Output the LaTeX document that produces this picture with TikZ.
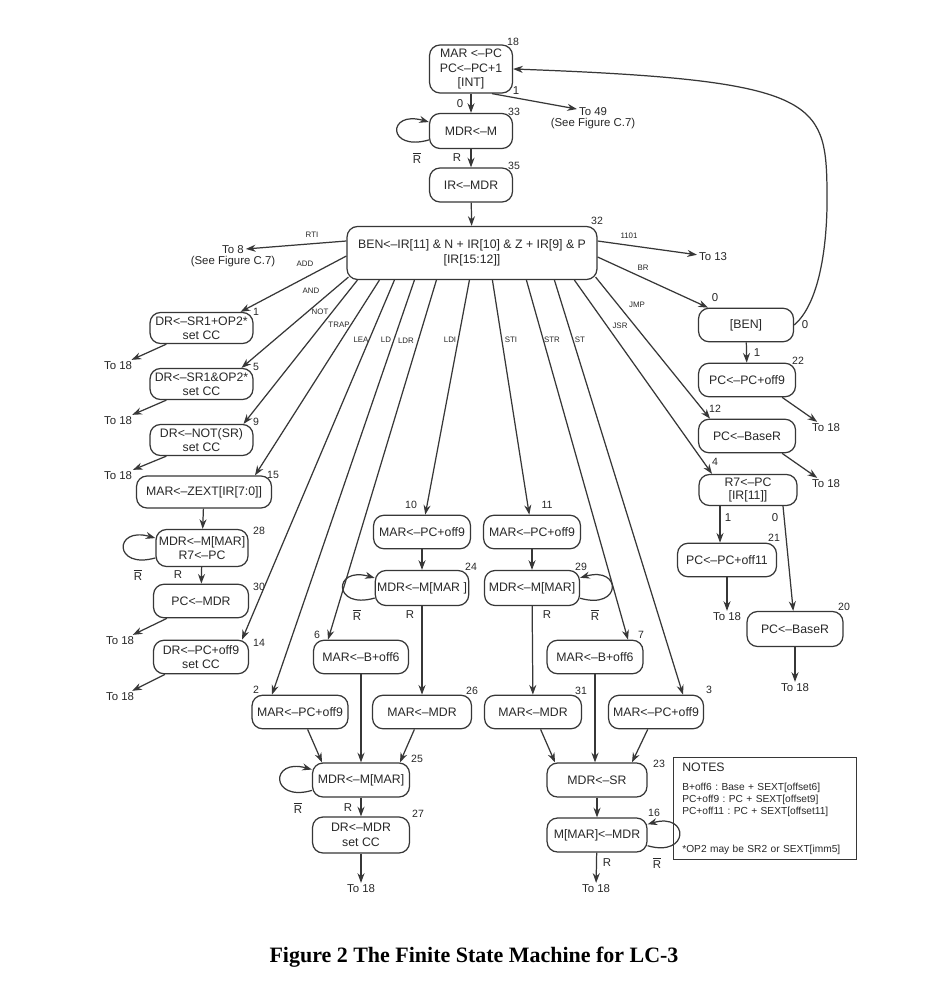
\documentclass[tikz,border=0pt]{standalone}
\usepackage{fontspec}
\setmainfont{Liberation Sans}
\newfontfamily\capfont{Liberation Serif}
\usepackage{tikz}
\usetikzlibrary{arrows.meta,positioning,calc}
\definecolor{linegray}{RGB}{55,55,55}
\definecolor{textgray}{RGB}{40,40,40}
\newcommand{\notR}{$\overline{\mbox{R}}$}
\frenchspacing

\begin{document}
\begin{tikzpicture}[x=0.02cm,y=-0.02cm,
    >={Stealth[length=5.5pt,width=4pt]},
    state/.style={draw=linegray, line width=0.7pt, rounded corners=6pt, align=center,
      inner sep=1pt, minimum width=1.94cm, minimum height=0.67cm,
      font=\fontsize{7}{8.2}\selectfont, text=textgray},
    num/.style={font=\fontsize{6}{7}\selectfont, text=textgray, inner sep=0pt},
    opc/.style={font=\fontsize{4.5}{5}\selectfont, text=textgray, inner sep=0pt},
    cond/.style={font=\fontsize{6.5}{7}\selectfont, text=textgray, inner sep=0pt},
    goto/.style={font=\fontsize{6.5}{7.5}\selectfont, text=textgray, inner sep=1pt},
    link/.style={->, draw=linegray, line width=0.7pt}]
\fill[white] (0,0) rectangle (947,996);
\useasboundingbox (0,0) rectangle (947,996);

% Fetch and decode
\node[state, minimum width=1.66cm, minimum height=0.96cm] (n18) at (471,69) {MAR <–PC\\PC<–PC+1\\{[INT]}};
\node[state, minimum width=1.66cm, minimum height=0.7cm] (n33) at (471,131) {MDR<–M};
\node[state, minimum width=1.66cm, minimum height=0.68cm] (n35) at (471,185) {IR<–MDR};
\node[state, minimum width=5cm, minimum height=1.06cm] (ben) at (472,253) {BEN<–IR[11] \& N + IR[10] \& Z + IR[9] \& P\\{[IR[15:12]]}};
\node[goto] (to49) at (593,112) {To 49};
\node[goto, below=-1pt of to49] (fig49) {(See Figure C.7)};
\node[goto] (to8) at (233,250) {To 8};
\node[goto, below=-1pt of to8] (fig8) {(See Figure C.7)};
\node[goto] (to13) at (713,257) {To 13};

\draw[link] (n18) -- (n33);
\draw[link] ($(n18.south)+(21,0)$) -- (to49);
\draw[link] (n33.192) .. controls +(-42,12) and +(-42,-12) .. (n33.168);
\draw[link] (n33) -- (n35);
\draw[link] (n35) -- (ben);
\node[num] at (513,42) {18};
\node[cond] at (516,91) {1};
\node[cond] at (460,104) {0};
\node[num] at (514,112) {33};
\node[cond] at (417,158) {\notR};
\node[cond] at (457,158) {R};
\node[num] at (514,166) {35};
\node[num] at (597,221) {32};

% Left column: operate, TRAP, LEA
\node[state, minimum width=2.06cm, minimum height=0.62cm] (n1) at (201.5,328) {DR<–SR1+OP2*\\set CC};
\node[state, minimum width=2.06cm, minimum height=0.62cm] (n5) at (201.5,384) {DR<–SR1\&OP2*\\set CC};
\node[state, minimum width=2.06cm, minimum height=0.62cm] (n9) at (201.5,440) {DR<–NOT(SR)\\set CC};
\node[state, minimum width=2.7cm, minimum height=0.64cm] (n15) at (204,492) {MAR<–ZEXT[IR[7:0]]};
\node[state, minimum width=1.84cm, minimum height=0.74cm] (n28) at (202,548) {MDR<–M[MAR]\\R7<–PC};
\node[state, minimum width=1.9cm] (n30) at (201,601) {PC<–MDR};
\node[state, minimum width=1.9cm] (n14) at (201,657) {DR<–PC+off9\\set CC};
\node[goto] (t1) at (118,366) {To 18};
\node[goto] (t5) at (118,421) {To 18};
\node[goto] (t9) at (118,476) {To 18};
\node[goto] (t30) at (120,641) {To 18};
\node[goto] (t14) at (120,697) {To 18};

\draw[link] ($(n1.south west)+(17,0)$) -- (t1);
\draw[link] ($(n5.south west)+(17,0)$) -- (t5);
\draw[link] ($(n9.south west)+(17,0)$) -- (t9);
\draw[link] (n15) -- (n28);
\draw[link] (n28.192) .. controls +(-42,12) and +(-42,-12) .. (n28.168);
\draw[link] (n28) -- (n30);
\draw[link] ($(n30.south west)+(14,0)$) -- (t30);
\draw[link] ($(n14.south west)+(12,0)$) -- (t14);
\node[num] at (256,312) {1};
\node[num] at (256,367) {5};
\node[num] at (256,422) {9};
\node[num] at (273,475) {15};
\node[num] at (259,531) {28};
\node[cond] at (138,575) {\notR};
\node[cond] at (178,575) {R};
\node[num] at (259,587) {30};
\node[num] at (259,643) {14};

% Loads
\node[state] (n10) at (422,532) {MAR<–PC+off9};
\node[state, minimum width=1.86cm, minimum height=0.7cm] (n24) at (422,588) {MDR<–M[MAR ]};
\node[state, minimum width=1.9cm] (n6) at (361,657) {MAR<–B+off6};
\node[state, minimum width=1.92cm] (n2) at (300,712) {MAR<–PC+off9};
\node[state, minimum width=1.98cm] (n26) at (422,712) {MAR<–MDR};
\node[state, minimum height=0.68cm] (n25) at (361,780) {MDR<–M[MAR]};
\node[state, minimum height=0.72cm] (n27) at (361,835) {DR<–MDR\\set CC};
\node[goto] (t27) at (361,889) {To 18};

\draw[link] (n10) -- (n24);
\draw[link] (n24.192) .. controls +(-42,12) and +(-42,-12) .. (n24.168);
\draw[link] (n24) -- (n26);
\draw[link] (n2) -- ($(n25.north)+(-39,0)$);
\draw[link] (n6) -- (n25);
\draw[link] (n26) -- ($(n25.north)+(39,0)$);
\draw[link] (n25.192) .. controls +(-42,12) and +(-42,-12) .. (n25.168);
\draw[link] (n25) -- (n27);
\draw[link] (n27) -- (t27);
\node[num] at (411,505) {10};
\node[num] at (471,567) {24};
\node[cond] at (357,615) {\notR};
\node[cond] at (410,615) {R};
\node[num] at (317,635) {6};
\node[num] at (256,690) {2};
\node[num] at (472,691) {26};
\node[num] at (417,759) {25};
\node[cond] at (298,808) {\notR};
\node[cond] at (348,808) {R};
\node[num] at (418,814) {27};

% Stores
\node[state] (n11) at (532,532) {MAR<–PC+off9};
\node[state, minimum width=1.9cm, minimum height=0.7cm] (n29) at (532,588) {MDR<–M[MAR]};
\node[state, minimum width=1.92cm] (n7) at (595,657) {MAR<–B+off6};
\node[state] (n31) at (533,712) {MAR<–MDR};
\node[state, minimum width=1.9cm] (n3) at (656,712) {MAR<–PC+off9};
\node[state, minimum width=2cm, minimum height=0.68cm] (n23) at (597,780) {MDR<–SR};
\node[state, minimum width=2cm, minimum height=0.68cm] (n16) at (597,835) {M[MAR]<–MDR};
\node[goto] (t16) at (596,889) {To 18};

\draw[link] (n11) -- (n29);
\draw[link] (n29.-12) .. controls +(42,12) and +(42,-12) .. (n29.12);
\draw[link] (n29) -- (n31);
\draw[link] (n31) -- ($(n23.north)+(-42,0)$);
\draw[link] (n7) -- (n7 |- n23.north);
\draw[link] (n3) -- ($(n23.north)+(35,0)$);
\draw[link] (n23) -- (n16);
\draw[link] (n16.-12) .. controls +(42,12) and +(42,-12) .. (n16.12);
\draw[link] (n16) -- (t16);
\node[num] at (547,505) {11};
\node[num] at (581,567) {29};
\node[cond] at (547,615) {R};
\node[cond] at (595,615) {\notR};
\node[num] at (641,635) {7};
\node[num] at (581,691) {31};
\node[num] at (709,690) {3};
\node[num] at (659,764) {23};
\node[num] at (654,813) {16};
\node[cond] at (607,863) {R};
\node[cond] at (657,863) {\notR};

% Branch, JMP, JSR
\node[state, minimum width=1.9cm] (n0) at (746,325) {[BEN]};
\node[state] (n22) at (747,380) {PC<–PC+off9};
\node[state] (n12) at (747,436) {PC<–BaseR};
\node[state, minimum width=1.96cm, minimum height=0.62cm, font=\fontsize{7}{7.6}\selectfont] (n4) at (748,490) {R7<–PC\\{[IR[11]]}};
\node[state, minimum width=1.98cm] (n21) at (727,560) {PC<–PC+off11};
\node[state, minimum width=1.92cm, minimum height=0.7cm] (n20) at (795,629) {PC<–BaseR};
\node[goto] (t22) at (826,428) {To 18};
\node[goto] (t12) at (826,484) {To 18};
\node[goto] (t21) at (727,617) {To 18};
\node[goto] (t20) at (795,688) {To 18};

\draw[link] (n0) -- (n22);
\draw[link] (n0.east) .. controls (818,305) and (828,250) .. (827,190)
  .. controls (826,100) and (815,80) .. (n18.east);
\draw[link] ($(n22.south east)+(-14,0)$) -- (t22);
\draw[link] ($(n12.south east)+(-14,0)$) -- (t12);
\draw[link] ($(n4.south)+(-28,0)$) -- ($(n21.north)+(-7,0)$);
\draw[link] ($(n4.south)+(35,0)$) -- (n20);
\draw[link] (n21) -- (t21);
\draw[link] (n20) -- (t20);
\node[cond] at (715,298) {0};
\node[cond] at (805,325) {0};
\node[cond] at (757,353) {1};
\node[num] at (798,361) {22};
\node[num] at (715,409) {12};
\node[num] at (715,462) {4};
\node[cond] at (728,518) {1};
\node[cond] at (775,518) {0};
\node[num] at (774,538) {21};
\node[num] at (844,607) {20};

% Opcode fan out of state 32
\draw[link] ($(ben.west)+(0,-12)$) -- (to8);
\draw[link] ($(ben.west)+(0,3)$) -- ($(n1.north)+(39,0)$);
\draw[link] ($(ben.south west)+(2,-3)$) -- ($(n5.north)+(40,0)$);
\draw[link] ($(ben.south west)+(11,0)$) -- ($(n9.north)+(42,0)$);
\draw[link] ($(ben.south west)+(33,0)$) -- ($(n15.north)+(51,0)$);
\draw[link] ($(ben.south west)+(48,0)$) -- ($(n14.north)+(41,0)$);
\draw[link] ($(ben.south west)+(68,0)$) -- ($(n2.north)+(-28,0)$);
\draw[link] ($(ben.south west)+(90,0)$) -- ($(n6.north)+(-33,0)$);
\draw[link] ($(ben.south west)+(123,0)$) -- (n10);
\draw[link] ($(ben.south west)+(146,0)$) -- (n11);
\draw[link] ($(ben.south west)+(180,0)$) -- ($(n7.north)+(33,0)$);
\draw[link] ($(ben.south west)+(208,0)$) -- ($(n3.north)+(27,0)$);
\draw[link] ($(ben.south west)+(228,0)$) -- ($(n4.north)+(-36,0)$);
\draw[link] ($(ben.south east)+(-2,-3)$) -- ($(n12.north)+(-37,0)$);
\draw[link] ($(ben.east)+(0,4)$) -- ($(n0.north)+(-38,0)$);
\draw[link] ($(ben.east)+(0,-12)$) -- (to13);
\node[opc] at (312,235) {RTI};
\node[opc] at (305,264) {ADD};
\node[opc] at (311,291) {AND};
\node[opc] at (320,312) {NOT};
\node[opc] at (339,325) {TRAP};
\node[opc] at (361,340) {LEA};
\node[opc] at (386,340) {LD};
\node[opc] at (406,341) {LDR};
\node[opc] at (450,340) {LDI};
\node[opc] at (511,340) {STI};
\node[opc] at (552,340) {STR};
\node[opc] at (580,340) {ST};
\node[opc] at (620,326) {JSR};
\node[opc] at (637,305) {JMP};
\node[opc] at (643,268) {BR};
\node[opc] at (629,236) {1101};

% Notes and caption
\node[draw=linegray, line width=0.6pt, anchor=north west, align=left, text width=3.3cm,
  inner xsep=5pt, inner ysep=3pt, text=textgray, font=\fontsize{5.8}{6.8}\selectfont] (notes) at (673,757)
  {{\fontsize{7}{8}\selectfont NOTES}\\[4pt]
   B+off6 : Base + SEXT[offset6]\\
   PC+off9 : PC + SEXT[offset9]\\
   PC+off11 : PC + SEXT[offset11]\\[15pt]
   *OP2 may be SR2 or SEXT[imm5]};
\node[font=\capfont\bfseries\fontsize{12.5}{14}\selectfont] (caption) at (474,957) {Figure 2 The Finite State Machine for LC-3};
\end{tikzpicture}
\end{document}
